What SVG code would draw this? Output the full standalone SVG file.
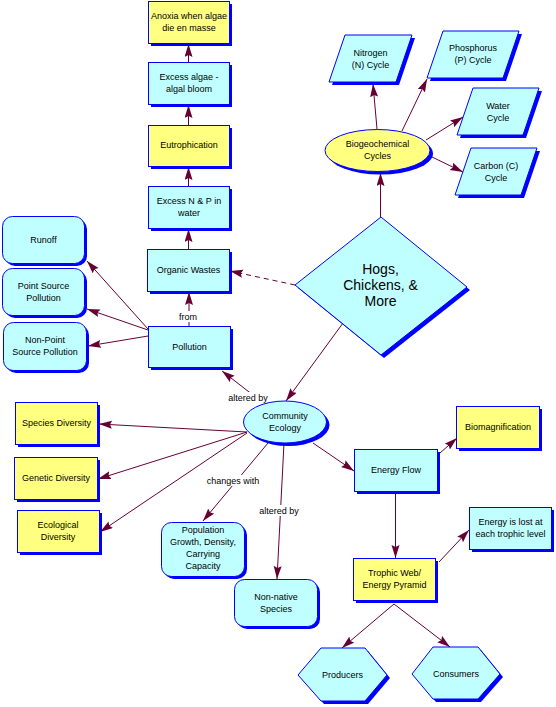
<svg xmlns="http://www.w3.org/2000/svg" width="556" height="707" viewBox="0 0 556 707">
<defs>
<marker id="ah" markerWidth="14" markerHeight="9" refX="13" refY="4" orient="auto" markerUnits="userSpaceOnUse">
<path d="M0,0 L13,4 L0,8 L2,4 z" fill="#660033"/>
</marker>
</defs>
<style>
.sh{fill:#0000ff;stroke:none}
.y{fill:#ffff80;stroke:#0000ff;stroke-width:1}
.c{fill:#c0ffff;stroke:#0000ff;stroke-width:1}
text{font-family:"Liberation Sans",Arial,sans-serif;font-size:9px;fill:#000;text-anchor:middle}
.big{font-size:14px}
.ln{stroke:#660033;stroke-width:1;fill:none;marker-end:url(#ah)}
.dash{stroke-dasharray:5,4}
.lb{fill:#fff}
</style>
<rect width="556" height="707" fill="#fff"/>

<g id="connectors">
<line class="ln" x1="188.5" y1="62" x2="188.5" y2="44"/>
<line class="ln" x1="188.5" y1="125" x2="188.5" y2="105"/>
<line class="ln" x1="188.5" y1="186" x2="188.5" y2="167"/>
<line class="ln" x1="188.5" y1="249" x2="188.5" y2="229"/>
<line class="ln" x1="189" y1="326" x2="189" y2="292"/>
<line class="ln" x1="148" y1="329" x2="87" y2="261"/>
<line class="ln" x1="148" y1="330" x2="87" y2="309"/>
<line class="ln" x1="148" y1="336" x2="88" y2="346"/>
<line class="ln" x1="262" y1="402" x2="222" y2="371"/>
<line class="ln" x1="380.5" y1="217" x2="380.5" y2="173"/>
<line class="ln" x1="377" y1="129" x2="373" y2="84"/>
<line class="ln" x1="402" y1="131" x2="427" y2="79"/>
<line class="ln" x1="426" y1="140" x2="463" y2="117"/>
<line class="ln" x1="432" y1="157" x2="463" y2="172"/>
<line class="ln" x1="343" y1="323" x2="286" y2="401"/>
<line class="ln dash" x1="295" y1="285" x2="230" y2="271"/>
<line class="ln" x1="247" y1="432" x2="99" y2="424"/>
<line class="ln" x1="247" y1="432" x2="98" y2="479"/>
<line class="ln" x1="247" y1="433" x2="100" y2="532"/>
<line class="ln" x1="268" y1="443" x2="203" y2="521"/>
<line class="ln" x1="284" y1="443" x2="277" y2="579"/>
<line class="ln" x1="313" y1="443" x2="354" y2="471"/>
<line class="ln" x1="440" y1="453" x2="457" y2="438"/>
<line class="ln" x1="395.5" y1="491" x2="395.5" y2="558"/>
<line class="ln" x1="439" y1="562" x2="469" y2="530"/>
<line class="ln" x1="394" y1="604" x2="342" y2="648"/>
<line class="ln" x1="394" y1="604" x2="450" y2="647"/>
<rect class="lb" x="177" y="311" width="22" height="11"/>
<text x="188" y="320">from</text>
<rect class="lb" x="227" y="392" width="42" height="11"/>
<text x="248" y="401">altered by</text>
<rect class="lb" x="205" y="475" width="56" height="11"/>
<text x="233" y="484">changes with</text>
<rect class="lb" x="258" y="505" width="42" height="11"/>
<text x="279" y="514">altered by</text>
</g>

<g id="anoxia"><rect class="sh" x="151" y="4" width="81" height="42"/><rect class="y" x="148.5" y="1.5" width="81" height="42"/><text x="189" y="19">Anoxia when algae</text><text x="189" y="31">die en masse</text></g>
<g id="algae"><rect class="sh" x="151" y="65" width="81" height="42"/><rect class="c" x="148.5" y="62.5" width="81" height="42"/><text x="189" y="80">Excess algae -</text><text x="189" y="92">algal bloom</text></g>
<g id="eutrophication"><rect class="sh" x="151" y="128" width="81" height="41"/><rect class="y" x="148.5" y="125.5" width="81" height="41"/><text x="189" y="148">Eutrophication</text></g>
<g id="excessnp"><rect class="sh" x="151" y="189" width="81" height="42"/><rect class="c" x="148.5" y="186.5" width="81" height="42"/><text x="189" y="204">Excess N &amp; P in</text><text x="189" y="216">water</text></g>
<g id="organic"><rect class="sh" x="150" y="252" width="82" height="42"/><rect class="c" x="147.5" y="249.5" width="82" height="42"/><text x="188.5" y="273">Organic Wastes</text></g>
<g id="pollution"><rect class="sh" x="151" y="329" width="82" height="41"/><rect class="c" x="148.5" y="326.5" width="82" height="41"/><text x="189.5" y="350">Pollution</text></g>
<g id="runoff"><rect class="sh" x="5" y="219" width="82" height="47" rx="10"/><rect class="c" x="2.5" y="216.5" width="82" height="47" rx="10"/><text x="43.5" y="242.5">Runoff</text></g>
<g id="pointsource"><rect class="sh" x="5" y="271" width="82" height="47" rx="10"/><rect class="c" x="2.5" y="268.5" width="82" height="47" rx="10"/><text x="43.5" y="289">Point Source</text><text x="43.5" y="301">Pollution</text></g>
<g id="nonpoint"><rect class="sh" x="6" y="325" width="83" height="48" rx="10"/><rect class="c" x="3.5" y="322.5" width="83" height="48" rx="10"/><text x="45" y="343">Non-Point</text><text x="45" y="355">Source Pollution</text></g>
<g id="species"><rect class="sh" x="18" y="405" width="82" height="42"/><rect class="y" x="15.5" y="402.5" width="82" height="42"/><text x="56.5" y="426">Species Diversity</text></g>
<g id="genetic"><rect class="sh" x="17" y="460" width="83" height="42"/><rect class="y" x="14.5" y="457.5" width="83" height="42"/><text x="56" y="481">Genetic Diversity</text></g>
<g id="ecological"><rect class="sh" x="20" y="513" width="82" height="42"/><rect class="y" x="17.5" y="510.5" width="82" height="42"/><text x="58" y="528">Ecological</text><text x="58" y="540">Diversity</text></g>
<g id="population"><rect class="sh" x="164" y="525" width="83" height="54" rx="10"/><rect class="c" x="161.5" y="522.5" width="83" height="54" rx="10"/><text x="203" y="533">Population</text><text x="203" y="545">Growth, Density,</text><text x="203" y="557">Carrying</text><text x="203" y="569">Capacity</text></g>
<g id="nonnative"><rect class="sh" x="237" y="582" width="83" height="47" rx="10"/><rect class="c" x="234.5" y="579.5" width="83" height="47" rx="10"/><text x="276" y="600">Non-native</text><text x="276" y="612">Species</text></g>
<g id="community"><ellipse class="sh" cx="288" cy="425" rx="41.5" ry="21"/><ellipse class="c" cx="285" cy="422" rx="41.5" ry="21"/><text x="285" y="419">Community</text><text x="285" y="431">Ecology</text></g>
<g id="biogeochemical"><ellipse class="sh" cx="380.5" cy="153.5" rx="52.5" ry="21"/><ellipse class="y" cx="377.5" cy="150.5" rx="52.5" ry="21"/><text x="377.5" y="147">Biogeochemical</text><text x="377.5" y="159">Cycles</text></g>
<g id="nitrogen"><polygon class="sh" points="348,38 415,38 399,85 332,85"/><polygon class="c" points="345,35 412,35 396,82 329,82"/><text x="370.5" y="56">Nitrogen</text><text x="370.5" y="68">(N) Cycle</text></g>
<g id="phosphorus"><polygon class="sh" points="446,34 522,34 506,81 430,81"/><polygon class="c" points="443,31 519,31 503,78 427,78"/><text x="473" y="51">Phosphorus</text><text x="473" y="63">(P) Cycle</text></g>
<g id="water"><polygon class="sh" points="476,91 542,91 526,138 460,138"/><polygon class="c" points="473,88 539,88 523,135 457,135"/><text x="498" y="109">Water</text><text x="498" y="121">Cycle</text></g>
<g id="carbon"><polygon class="sh" points="474,151 540,151 524,198 458,198"/><polygon class="c" points="471,148 537,148 521,195 455,195"/><text x="496" y="169">Carbon (C)</text><text x="496" y="181">Cycle</text></g>
<g id="hogs"><polygon class="sh" points="384,220 470,290 384,358 298,288"/><polygon class="c" points="381,217 467,287 381,355 295,285"/><text class="big" x="380.5" y="274">Hogs,</text><text class="big" x="380.5" y="290">Chickens, &amp;</text><text class="big" x="380.5" y="306">More</text></g>
<g id="energyflow"><rect class="sh" x="357" y="452" width="83" height="42"/><rect class="c" x="354.5" y="449.5" width="83" height="42"/><text x="396" y="473">Energy Flow</text></g>
<g id="biomagnification"><rect class="sh" x="459" y="409" width="83" height="42"/><rect class="y" x="456.5" y="406.5" width="83" height="42"/><text x="498" y="430">Biomagnification</text></g>
<g id="energylost"><rect class="sh" x="472" y="510" width="82" height="42"/><rect class="c" x="469.5" y="507.5" width="82" height="42"/><text x="510.5" y="525">Energy is lost at</text><text x="510.5" y="537">each trophic level</text></g>
<g id="trophic"><rect class="sh" x="356" y="561" width="82" height="42"/><rect class="y" x="353.5" y="558.5" width="82" height="42"/><text x="394.5" y="576">Trophic Web/</text><text x="394.5" y="588">Energy Pyramid</text></g>
<g id="producers"><polygon class="sh" points="301,678 324,651 368,651 390,678 368,704 324,704"/><polygon class="c" points="298,675 321,648 365,648 387,675 365,701 321,701"/><text x="342.5" y="678">Producers</text></g>
<g id="consumers"><polygon class="sh" points="415,677 436,650 481,650 503,677 481,702 436,702"/><polygon class="c" points="412,674 433,647 478,647 500,674 478,699 433,699"/><text x="456" y="677">Consumers</text></g>
</svg>
